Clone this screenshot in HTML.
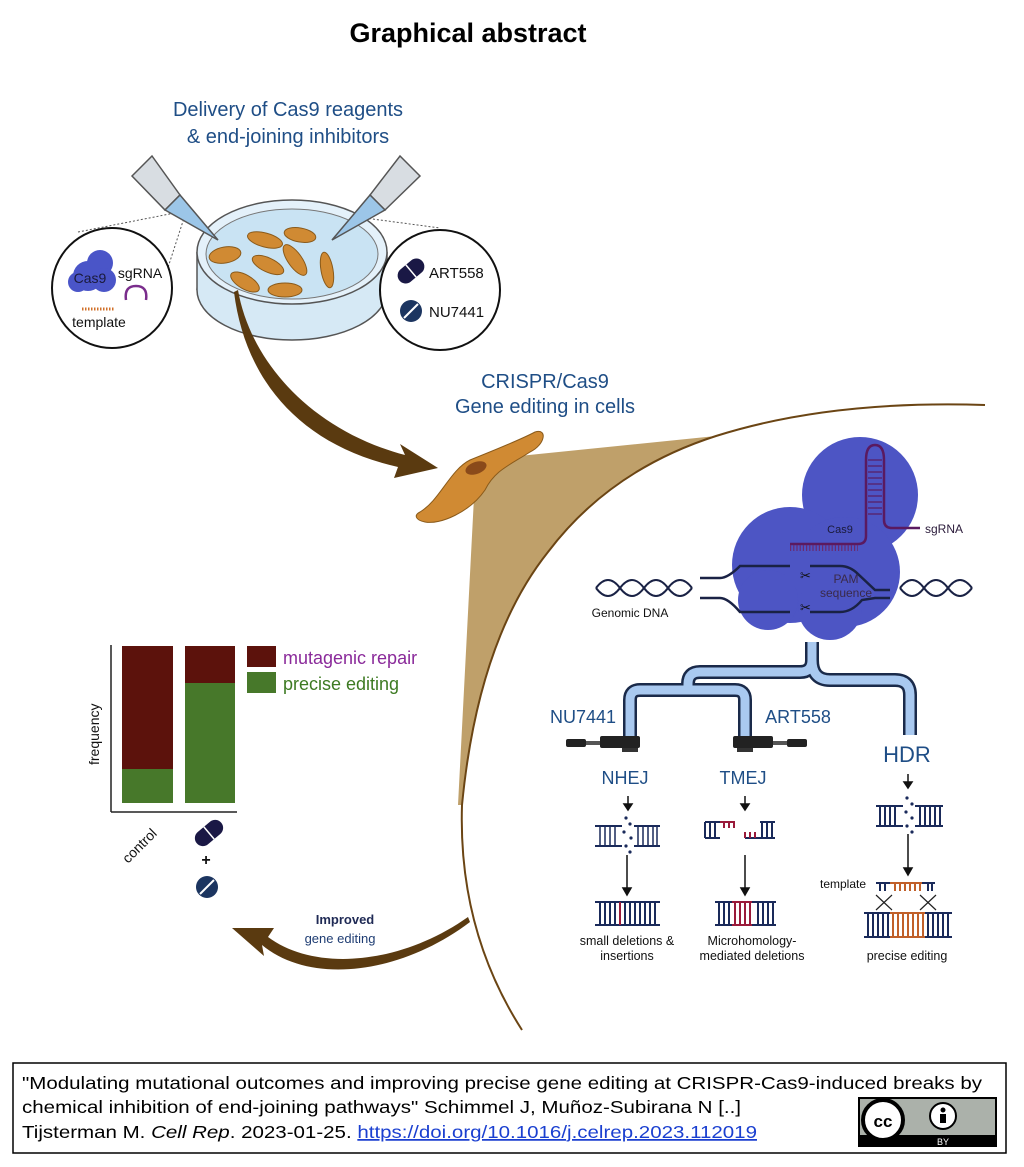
<!DOCTYPE html>
<html><head><meta charset="utf-8"><style>
html,body{margin:0;padding:0;background:#fff;}
svg{display:block;font-family:"Liberation Sans",Arial,sans-serif;}
</style></head><body>
<svg width="1024" height="1167" viewBox="0 0 1024 1167" xmlns="http://www.w3.org/2000/svg">
<rect width="1024" height="1167" fill="#fff"/>
<text x="468" y="42" font-size="27" font-weight="bold" text-anchor="middle" fill="#000">Graphical abstract</text>
<g fill="#1f4e86" font-size="20" text-anchor="middle">
<text x="288" y="116">Delivery of Cas9 reagents</text>
<text x="288" y="143">&amp; end-joining inhibitors</text>
<text x="545" y="388">CRISPR/Cas9</text>
<text x="545" y="413">Gene editing in cells</text>
</g>
<g stroke="#555" stroke-dasharray="2,2" stroke-width="1" fill="none">
<line x1="78" y1="232" x2="190" y2="210"/><line x1="162" y1="286" x2="185" y2="215"/>
<line x1="365" y1="218" x2="440" y2="228"/><line x1="365" y1="222" x2="378" y2="285"/>
</g>
<!-- petri dish -->
<ellipse cx="292" cy="290" rx="95" ry="50" fill="#d6e9f5" stroke="#555" stroke-width="1.5"/>
<rect x="197" y="252" width="190" height="38" fill="#d6e9f5"/>
<line x1="197" y1="252" x2="197" y2="290" stroke="#555" stroke-width="1.5"/>
<line x1="387" y1="252" x2="387" y2="290" stroke="#555" stroke-width="1.5"/>
<ellipse cx="292" cy="252" rx="95" ry="52" fill="#e4f1fa" stroke="#555" stroke-width="1.5"/>
<ellipse cx="292" cy="254" rx="86" ry="45" fill="#c9e3f3" stroke="#777" stroke-width="1"/>
<g fill="#d08a33" stroke="#8a5a1a" stroke-width="1">
<ellipse cx="225" cy="255" rx="16" ry="8" transform="rotate(-10 225 255)"/>
<ellipse cx="265" cy="240" rx="18" ry="7" transform="rotate(15 265 240)"/>
<ellipse cx="300" cy="235" rx="16" ry="7" transform="rotate(10 300 235)"/>
<ellipse cx="268" cy="265" rx="17" ry="7" transform="rotate(25 268 265)"/>
<ellipse cx="295" cy="260" rx="18" ry="7" transform="rotate(55 295 260)"/>
<ellipse cx="327" cy="270" rx="18" ry="6" transform="rotate(80 327 270)"/>
<ellipse cx="245" cy="282" rx="16" ry="7" transform="rotate(30 245 282)"/>
<ellipse cx="285" cy="290" rx="17" ry="7"/>
</g>
<g stroke="#555" stroke-width="1.5">
<polygon points="132,176 152,156 180,195 165,210" fill="#d8dde2"/>
<polygon points="165,210 180,195 218,240" fill="#9cc6e8"/>
<polygon points="420,176 400,156 370,195 385,210" fill="#d8dde2"/>
<polygon points="385,210 370,195 332,240" fill="#9cc6e8"/>
</g>
<!-- left circle -->
<circle cx="112" cy="288" r="60" fill="#fff" stroke="#111" stroke-width="2"/>
<g fill="#4a55c8"><circle cx="88" cy="276" r="15"/><circle cx="100" cy="263" r="13"/><circle cx="104" cy="280" r="12"/><circle cx="78" cy="282" r="10"/></g>
<text x="90" y="283" font-size="14" text-anchor="middle" fill="#1a1a3a">Cas9</text>
<text x="140" y="278" font-size="14" text-anchor="middle" fill="#111">sgRNA</text>
<path d="M126 300 q-2 -14 10 -14 q12 0 10 14" stroke="#7a2d8c" stroke-width="2.5" fill="none"/>
<line x1="82" y1="309" x2="114" y2="309" stroke="#d0702a" stroke-width="3" stroke-dasharray="1.5,1.5"/>
<text x="99" y="327" font-size="14" text-anchor="middle" fill="#111">template</text>
<!-- right circle -->
<circle cx="440" cy="290" r="60" fill="#fff" stroke="#111" stroke-width="2"/>
<g transform="rotate(-40 411 271)"><rect x="396" y="263" width="30" height="16" rx="8" fill="#1a1845"/><line x1="411" y1="263" x2="411" y2="279" stroke="#fff" stroke-width="1.5"/></g>
<text x="429" y="278" font-size="15" fill="#111">ART558</text>
<circle cx="411" cy="311" r="11" fill="#1c3560"/><line x1="404" y1="318" x2="418" y2="304" stroke="#fff" stroke-width="2"/>
<text x="429" y="317" font-size="15" fill="#111">NU7441</text>
<!-- wedge & arc -->
<path d="M475 478 L500 458 L716 436 Q610 470 548 552 Q478 640 462 805 L458 805 Z" fill="#bfa06a"/>
<path d="M985 405 Q830 400 716 436 Q610 470 548 552 Q478 640 462 805 Q458 930 522 1030" stroke="#6b4514" stroke-width="2" fill="none"/>
<!-- brown top arrow -->
<path d="M238 290 C250 360 310 430 405 455 L400 444 L438 468 L394 478 L398 467 C300 445 245 380 234 292 Z" fill="#5a3a10"/>
<!-- cell -->
<path d="M420 512 C440 500 450 470 470 460 C495 450 520 440 535 432 C548 428 545 445 530 452 C510 465 495 470 485 490 C470 512 440 525 425 522 C415 520 414 515 420 512 Z" fill="#d08a33" stroke="#8a5a1a" stroke-width="1"/>
<ellipse cx="476" cy="468" rx="11" ry="6" fill="#8a4a1a" transform="rotate(-20 476 468)"/>
<!-- bottom arrow -->
<path d="M470 922 C400 975 310 985 262 945 L264 956 L232 928 L274 928 L268 937 C315 972 400 965 468 917 Z" fill="#5a3a10"/>
<text x="345" y="924" font-size="13" font-weight="bold" text-anchor="middle" fill="#1f2a55">Improved</text>
<text x="340" y="943" font-size="13" text-anchor="middle" fill="#1f3d73">gene editing</text>
<!-- chart -->
<line x1="111" y1="645" x2="111" y2="812" stroke="#222" stroke-width="1.5"/>
<line x1="111" y1="812" x2="237" y2="812" stroke="#222" stroke-width="1.5"/>
<rect x="122" y="646" width="51" height="123" fill="#5c120c"/>
<rect x="122" y="769" width="51" height="34" fill="#47782a"/>
<rect x="185" y="646" width="50" height="37" fill="#5c120c"/>
<rect x="185" y="683" width="50" height="120" fill="#47782a"/>
<rect x="247" y="646" width="29" height="21" fill="#5c120c"/>
<rect x="247" y="672" width="29" height="21" fill="#47782a"/>
<text x="283" y="664" font-size="18" fill="#8a2a9a">mutagenic repair</text>
<text x="283" y="690" font-size="18" fill="#3d7a22">precise editing</text>
<text x="0" y="0" font-size="14" fill="#111" transform="translate(99 765) rotate(-90)">frequency</text>
<text x="0" y="0" font-size="14" fill="#111" transform="translate(128 864) rotate(-45)">control</text>
<g transform="rotate(-40 209 833)"><rect x="193" y="825" width="32" height="16" rx="8" fill="#1a1845"/><line x1="209" y1="825" x2="209" y2="841" stroke="#fff" stroke-width="1.5"/></g>
<text x="206" y="865" font-size="16" font-weight="bold" text-anchor="middle" fill="#111">+</text>
<circle cx="207" cy="887" r="11" fill="#1c3560"/><line x1="200" y1="894" x2="214" y2="880" stroke="#fff" stroke-width="2"/>
<!-- Cas9 blob -->
<g fill="#4d55c4">
<circle cx="860" cy="495" r="58"/><circle cx="790" cy="565" r="58"/><circle cx="845" cy="572" r="55"/><circle cx="768" cy="600" r="30"/><circle cx="830" cy="608" r="32"/><rect x="785" y="530" width="85" height="55"/>
</g>
<path d="M790 544 L858 544 Q866 544 866 536 L866 460 Q866 445 875 445 Q884 445 884 460 L884 520 Q884 528 892 528 L920 528" stroke="#5a1a60" stroke-width="2.5" fill="none"/>
<g stroke="#5a1a60" stroke-width="1.2"><line x1="868" y1="460" x2="882" y2="460"/><line x1="868" y1="466" x2="882" y2="466"/><line x1="868" y1="472" x2="882" y2="472"/><line x1="868" y1="478" x2="882" y2="478"/><line x1="868" y1="484" x2="882" y2="484"/><line x1="868" y1="490" x2="882" y2="490"/><line x1="868" y1="496" x2="882" y2="496"/><line x1="868" y1="502" x2="882" y2="502"/><line x1="868" y1="508" x2="882" y2="508"/><line x1="868" y1="514" x2="882" y2="514"/></g>
<line x1="790" y1="548" x2="858" y2="548" stroke="#6a2a70" stroke-width="6" stroke-dasharray="1.2,2"/>
<text x="840" y="533" font-size="11" text-anchor="middle" fill="#1a1a3a">Cas9</text>
<text x="925" y="533" font-size="12" fill="#2a1a3a">sgRNA</text>
<path d="M700 578 L720 578 Q728 578 740 566 L790 566 M810 566 L840 566 Q850 566 858 574 L875 590 L890 590" stroke="#1a2245" stroke-width="2.5" fill="none"/>
<path d="M700 598 L720 598 Q728 598 740 612 L790 612 M810 612 L840 612 Q852 612 862 600 L875 598 L890 598" stroke="#1a2245" stroke-width="2.5" fill="none"/>
<g stroke="#1a2245" stroke-width="2" fill="none">
<path d="M596 588 Q608 572 620 588 Q632 604 644 588 Q656 572 668 588 Q680 604 692 588"/>
<path d="M596 588 Q608 604 620 588 Q632 572 644 588 Q656 604 668 588 Q680 572 692 588"/>
<path d="M900 588 Q912 572 924 588 Q936 604 948 588 Q960 572 972 588"/>
<path d="M900 588 Q912 604 924 588 Q936 572 948 588 Q960 604 972 588"/>
</g>
<text x="630" y="617" font-size="12" text-anchor="middle" fill="#111">Genomic DNA</text>
<text x="846" y="583" font-size="12" text-anchor="middle" fill="#3a2a4a">PAM</text>
<text x="846" y="597" font-size="12" text-anchor="middle" fill="#3a2a4a">sequence</text>
<text x="800" y="580" font-size="13" fill="#111">✂</text>
<text x="800" y="612" font-size="13" fill="#111">✂</text>
<!-- tubes -->
<g fill="none" stroke-linejoin="round">
<path d="M812 642 L812 660 Q812 672 800 672 L700 672 Q688 672 688 684 L688 690 M688 690 L640 690 Q630 690 630 700 L630 745 M688 690 L735 690 Q745 690 745 700 L745 745 M812 660 Q812 680 830 680 L895 680 Q910 680 910 695 L910 735" stroke="#1a2a4a" stroke-width="14"/>
<path d="M812 642 L812 660 Q812 672 800 672 L700 672 Q688 672 688 684 L688 690 M688 690 L640 690 Q630 690 630 700 L630 745 M688 690 L735 690 Q745 690 745 700 L745 745 M812 660 Q812 680 830 680 L895 680 Q910 680 910 695 L910 735" stroke="#a9c9f0" stroke-width="9"/>
</g>
<rect x="622" y="740" width="16" height="12" fill="#333"/><rect x="737" y="740" width="16" height="12" fill="#333"/>
<g fill="#222"><rect x="566" y="739" width="20" height="8" rx="2"/><rect x="586" y="741" width="18" height="4" fill="#555"/><rect x="600" y="736" width="40" height="12" rx="2"/>
<rect x="733" y="736" width="40" height="12" rx="2"/><rect x="773" y="741" width="18" height="4" fill="#555"/><rect x="787" y="739" width="20" height="8" rx="2"/></g>
<g fill="#1f4e86" font-size="18" text-anchor="middle">
<text x="583" y="723">NU7441</text><text x="798" y="723">ART558</text>
<text x="625" y="784">NHEJ</text><text x="743" y="784">TMEJ</text>
<text x="907" y="762" font-size="22">HDR</text>
</g>
<g stroke="#111" stroke-width="1.5" fill="#111">
<line x1="628" y1="796" x2="628" y2="806"/><polygon points="624,804 632,804 628,810"/>
<line x1="745" y1="796" x2="745" y2="806"/><polygon points="741,804 749,804 745,810"/>
<line x1="908" y1="774" x2="908" y2="784"/><polygon points="904,782 912,782 908,788"/>
<line x1="627" y1="855" x2="627" y2="890"/><polygon points="623,888 631,888 627,895"/>
<line x1="745" y1="855" x2="745" y2="890"/><polygon points="741,888 749,888 745,895"/>
<line x1="908" y1="834" x2="908" y2="870"/><polygon points="904,868 912,868 908,875"/>
</g>
<g stroke="#1a2a5a" stroke-width="2" fill="none">
<path d="M595 826 L622 826 M595 846 L622 846 M634 826 L660 826 M634 846 L660 846"/>
<path d="M600 826 V846 M605 826 V846 M610 826 V846 M615 826 V846 M638 826 V846 M643 826 V846 M648 826 V846 M653 826 V846 M657 826 V846" stroke-width="1.5"/>
<path d="M705 822 L720 822 M705 838 L720 838 M745 838 L775 838 M760 822 L775 822 M705 822 V838 M710 822 V838 M715 822 V838 M762 822 V838 M767 822 V838 M772 822 V838"/>
<path d="M876 806 L903 806 M876 826 L903 826 M915 806 L943 806 M915 826 L943 826 M880 806 V826 M885 806 V826 M890 806 V826 M895 806 V826 M920 806 V826 M925 806 V826 M930 806 V826 M935 806 V826 M940 806 V826" />
<path d="M595 902 L660 902 M595 925 L660 925 M600 902 V925 M605 902 V925 M610 902 V925 M615 902 V925 M625 902 V925 M630 902 V925 M635 902 V925 M640 902 V925 M645 902 V925 M650 902 V925 M655 902 V925"/>
<path d="M715 902 L776 902 M715 925 L776 925 M719 902 V925 M724 902 V925 M729 902 V925 M758 902 V925 M763 902 V925 M768 902 V925 M773 902 V925"/>
<path d="M864 913 L952 913 M864 937 L952 937 M868 913 V937 M873 913 V937 M878 913 V937 M883 913 V937 M888 913 V937 M928 913 V937 M933 913 V937 M938 913 V937 M943 913 V937 M948 913 V937"/>
<path d="M876 883 L935 883 M880 883 V891 M885 883 V891 M928 883 V891 M932 883 V891"/>
</g>
<g stroke="#9a1a3a" stroke-width="2" fill="none">
<path d="M620 902 V925"/>
<path d="M720 822 L735 822 M724 822 V828 M729 822 V828 M734 822 V828 M745 838 V832 M750 838 V832 M755 838 V832"/>
<path d="M735 902 V925 M740 902 V925 M745 902 V925 M750 902 V925 M732 902 L752 902 M732 925 L752 925"/>
</g>
<g stroke="#c0602a" stroke-width="2" fill="none">
<path d="M890 883 L922 883 M895 883 V891 M900 883 V891 M905 883 V891 M910 883 V891 M915 883 V891 M920 883 V891"/>
<path d="M893 913 V937 M898 913 V937 M903 913 V937 M908 913 V937 M913 913 V937 M918 913 V937 M923 913 V937 M890 913 L925 913 M890 937 L925 937"/>
</g>
<g stroke="#222" stroke-width="1.2"><path d="M876 895 L892 910 M892 895 L876 910 M920 895 L936 910 M936 895 L920 910"/></g>
<g fill="#1a2a5a">
<circle cx="626" cy="818" r="1.6"/><circle cx="630" cy="824" r="1.6"/><circle cx="624" cy="832" r="1.6"/><circle cx="631" cy="838" r="1.6"/><circle cx="626" cy="846" r="1.6"/><circle cx="630" cy="852" r="1.6"/>
<circle cx="907" cy="798" r="1.6"/><circle cx="912" cy="804" r="1.6"/><circle cx="906" cy="812" r="1.6"/><circle cx="912" cy="818" r="1.6"/><circle cx="907" cy="826" r="1.6"/><circle cx="912" cy="832" r="1.6"/>
</g>
<g font-size="12.5" text-anchor="middle" fill="#111">
<text x="627" y="945">small deletions &amp;</text><text x="627" y="960">insertions</text>
<text x="752" y="945">Microhomology-</text><text x="752" y="960">mediated deletions</text>
<text x="907" y="960">precise editing</text>
<text x="843" y="888" font-size="12">template</text>
</g>
<!-- citation -->
<rect x="13" y="1063" width="993" height="90" fill="#fff" stroke="#000" stroke-width="1.5"/>
<g font-size="17.5" fill="#000">
<text x="22" y="1089" textLength="960" lengthAdjust="spacingAndGlyphs">"Modulating mutational outcomes and improving precise gene editing at CRISPR-Cas9-induced breaks by</text>
<text x="22" y="1113" textLength="719" lengthAdjust="spacingAndGlyphs">chemical inhibition of end-joining pathways" Schimmel J, Muñoz-Subirana N [..]</text>
<text x="22" y="1138" textLength="735" lengthAdjust="spacingAndGlyphs">Tijsterman M. <tspan font-style="italic">Cell Rep</tspan>. 2023-01-25. <tspan fill="#1a3fd0" text-decoration="underline">https://doi.org/10.1016/j.celrep.2023.112019</tspan></text>
</g>
<rect x="858" y="1097" width="139" height="50" fill="#000"/>
<rect x="860" y="1099" width="135" height="36" fill="#abb1aa"/>
<circle cx="883" cy="1120" r="20" fill="#fff" stroke="#000" stroke-width="4"/>
<text x="883" y="1127" font-size="17" font-weight="bold" text-anchor="middle" fill="#000">cc</text>
<circle cx="943" cy="1116" r="13" fill="#fff" stroke="#000" stroke-width="2"/>
<circle cx="943" cy="1110" r="2.5" fill="#000"/><rect x="940" y="1114" width="6" height="9" fill="#000"/>
<text x="943" y="1145" font-size="9" text-anchor="middle" fill="#fff">BY</text>
</svg>
</body></html>
